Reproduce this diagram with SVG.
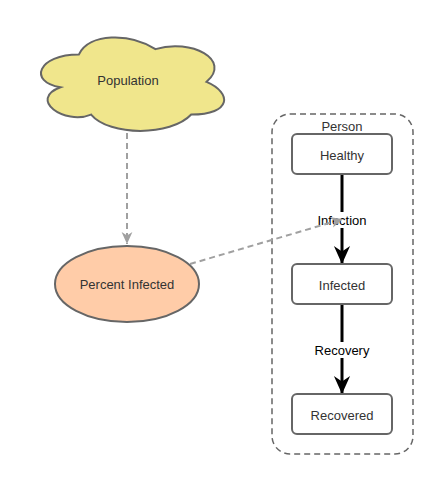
<svg xmlns="http://www.w3.org/2000/svg" width="434" height="478" viewBox="0 0 434 478">
<style>
text{font-family:"Liberation Sans","DejaVu Sans",sans-serif;font-size:13px;fill:#333;text-anchor:middle;dominant-baseline:central}
.node{stroke:#666;stroke-width:2}
.box{fill:#fff;stroke:#666;stroke-width:2}
.dash{fill:none;stroke:#a0a0a0;stroke-width:2;stroke-dasharray:6 4}
.flow{fill:none;stroke:#000;stroke-width:3}
</style>
<defs>
<marker id="ba" viewBox="0 0 10 10" refX="10" refY="5" markerWidth="18" markerHeight="18" orient="auto" markerUnits="userSpaceOnUse">
<path d="M0,0.5 L10,5 L0,9.5 L3,5 Z" fill="#000"/>
</marker>
<marker id="ga2" viewBox="0 0 10 10" refX="10" refY="5" markerWidth="12" markerHeight="12" orient="auto" markerUnits="userSpaceOnUse">
<path d="M0,0.5 L10,5 L0,9.5 L3,5 Z" fill="#a0a0a0"/>
</marker>
</defs>
<g id="person">
<rect x="272" y="114" width="141" height="340" rx="18" fill="none" stroke="#666" stroke-width="1.5" stroke-dasharray="6 4"/>
<text x="342" y="126">Person</text>
</g>
<g id="connectors">
<path class="flow" d="M342,174 L342,264" marker-end="url(#ba)"/>
<path class="flow" d="M342,304 L342,394" marker-end="url(#ba)"/>
<rect x="312" y="212" width="60" height="16" fill="#fff"/>
<text x="342" y="220" style="fill:#000">Infection</text>
<rect x="312" y="342" width="60" height="16" fill="#fff"/>
<text x="342" y="350" style="fill:#000">Recovery</text>
<path class="dash" d="M127,133 L127,244" marker-end="url(#ga2)"/>
<path class="dash" d="M190,264 L343,219" marker-end="url(#ga2)"/>
</g>
<g id="population">
<path class="node" fill="#f0e68c" vector-effect="non-scaling-stroke" transform="translate(131,83) scale(1.087,1.16) translate(-131,-83)" d="M83,58.5 C45.4,58.5 36,82 66.08,86.7 C36,97.04 69.84,119.6 94.28,110.2 C111.2,129 167.6,129 186.4,110.2 C224,110.2 224,91.4 200.5,82 C224,63.2 186.4,44.4 153.5,53.8 C130,39.7 92.4,39.7 83,58.5 Z"/>
<text x="128" y="80">Population</text>
</g>
<g id="percent-infected">
<ellipse class="node" cx="127" cy="284" rx="72" ry="38" fill="#ffcca8"/>
<text x="127" y="284">Percent Infected</text>
</g>
<g id="healthy">
<rect class="box" x="292" y="134" width="100" height="40" rx="5"/>
<text x="342" y="155">Healthy</text>
</g>
<g id="infected">
<rect class="box" x="292" y="264" width="100" height="40" rx="5"/>
<text x="342" y="285">Infected</text>
</g>
<g id="recovered">
<rect class="box" x="292" y="394" width="100" height="40" rx="5"/>
<text x="342" y="415">Recovered</text>
</g>
</svg>
